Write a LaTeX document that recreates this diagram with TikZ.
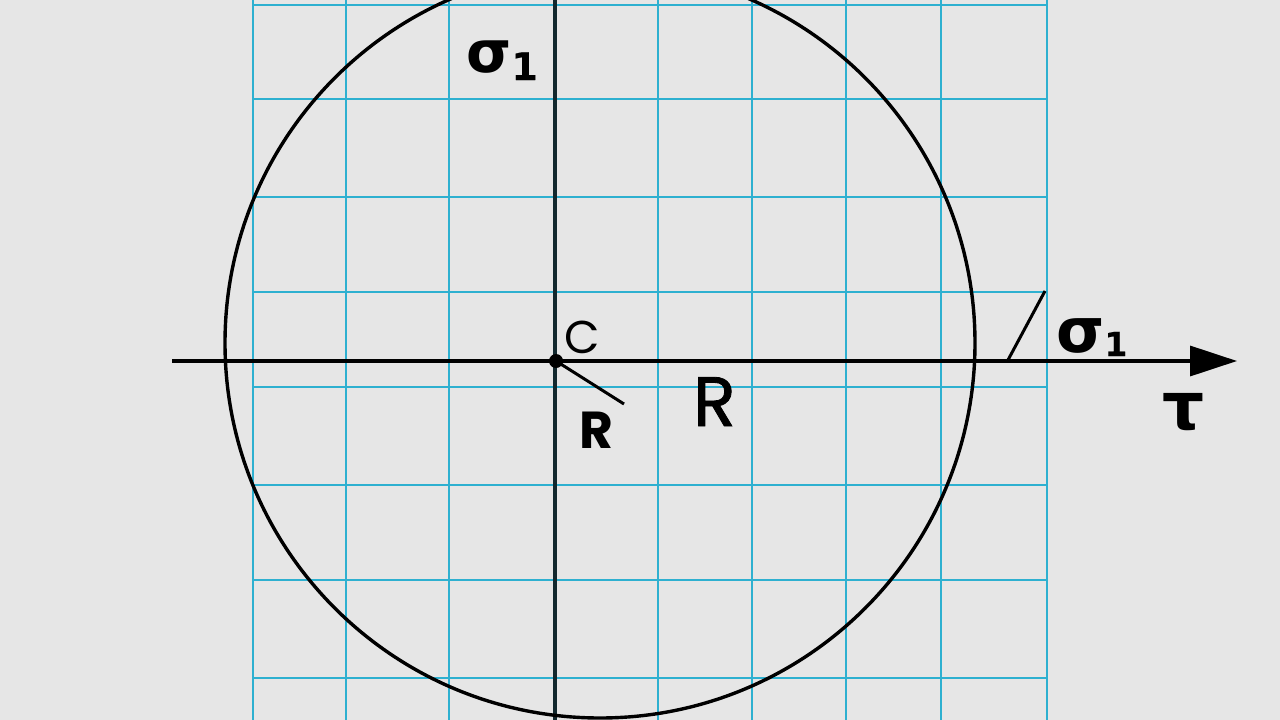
\documentclass[tikz,border=0pt]{standalone}
\usepackage{fontspec}
\setmainfont{Poppins}
\newfontfamily\greekfont{DejaVu Sans}
\newfontfamily\medfont[FakeBold=1.2]{Poppins}
\newfontfamily\subfont[FakeBold=0.3]{DejaVu Sans}
\usetikzlibrary{arrows.meta}
\definecolor{bg}{RGB}{230,230,230}
\definecolor{gridc}{RGB}{46,176,208}
\definecolor{axisc}{RGB}{18,40,46}
\begin{document}
\begin{tikzpicture}[x=1pt,y=-1pt,
  gridline/.style={gridc,line width=2.6pt},
  axisline/.style={axisc,line width=3.2pt},
  curve/.style={black,line width=3.4pt},
  lbl/.style={inner sep=0pt,anchor=base west}]
\fill[bg] (0,0) rectangle (1280,720);
\useasboundingbox (0,0) rectangle (1280,720);
\clip (0,0) rectangle (1280,720);
% grid
\foreach \x in {253,346,449,658,752,846,941,1047}
  \draw[gridline] (\x,0) -- (\x,720);
\foreach \y in {5,99,197,292,387,485,580,678}
  \draw[gridline] (253,\y) -- (1047,\y);
% vertical axis
\coordinate (vT) at (555,0);
\coordinate (vB) at (555,720);
\draw[axisline] (vT) -- (vB);
% circle
\coordinate (M) at (600,343);
\draw[curve] (M) circle[radius=375];
% horizontal axis
\coordinate (axL) at (172,361);
\coordinate (axR) at (1237,361);
\draw[curve,-{Triangle[length=47pt,width=30pt]}] (axL) -- (axR);
% centre
\node[circle,fill=black,inner sep=0pt,minimum size=14pt] (C0) at (556,361) {};
\coordinate (Rend) at (624,404);
\draw[curve,line width=3pt] (C0.center) -- (Rend);
% slanted tick
\coordinate (s1) at (1008,360);
\coordinate (s2) at (1045,291);
\draw[curve,line width=3pt] (s1) -- (s2);
% labels
\node[lbl] (lC) at (564,353) {\fontsize{46}{46}\selectfont C};
\node[lbl] (lR1) at (579,448) {\fontsize{52}{52}\selectfont\bfseries R};
\node[lbl] (lR2) at (693,426) {\medfont\fontsize{70}{70}\selectfont R};
\node[lbl] (sig1) at (466,72) {\greekfont\bfseries\fontsize{58}{58}\selectfont σ\raisebox{-8pt}{\subfont\fontsize{38}{38}\selectfont 1}};
\node[lbl] (sig2) at (1056,352) {\greekfont\bfseries\fontsize{62}{62}\selectfont σ\raisebox{-4pt}{\subfont\fontsize{33}{33}\selectfont 1}};
\node[lbl] (tau) at (1162,429) {\greekfont\bfseries\fontsize{66}{66}\selectfont τ};
\end{tikzpicture}
\end{document}
